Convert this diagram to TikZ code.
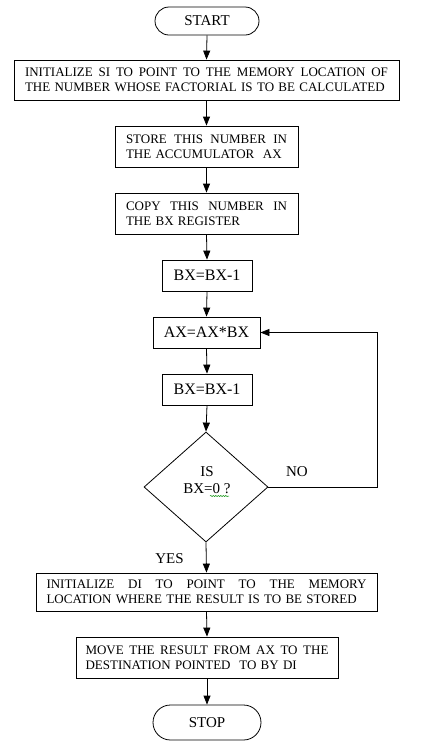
\documentclass[tikz,border=0pt]{standalone}
\usepackage{fontspec}
\setmainfont{Liberation Serif}
\usetikzlibrary{arrows.meta,shapes.geometric,decorations.pathmorphing}
\newcommand\jline[2]{\hbox to #1{\spaceskip=0.25em plus 1fil\relax #2}}
\begin{document}
\begin{tikzpicture}[x=1pt,y=-1pt,
  line width=0.8pt,
  arr/.style={-{Triangle[length=9pt,width=7pt]}},
  txtbox/.style={draw,rectangle,inner sep=0pt,align=left,font=\fontsize{13}{15}\selectfont},
  eqbox/.style={draw,rectangle,inner sep=0pt,minimum height=31pt,font=\fontsize{16}{18}\selectfont},
  term/.style={draw,rectangle,inner sep=0pt,font=\fontsize{15}{17}\selectfont},
  lbl/.style={font=\fontsize{15}{17}\selectfont,inner sep=0pt}]
\useasboundingbox (0,0) rectangle (425,745);
\fill[white] (0,0) rectangle (425,745);

\node[term,minimum width=104pt,minimum height=28pt,rounded corners=14pt] (start) at (207,21) {START};

\node[txtbox,minimum width=385pt,minimum height=40pt,text width=363pt] (b1) at (206.5,80)
  {\jline{363pt}{INITIALIZE SI TO POINT TO THE MEMORY LOCATION OF}\\\mbox{THE NUMBER WHOSE FACTORIAL IS TO BE CALCULATED}};

\node[txtbox,minimum width=183pt,minimum height=41pt,text width=161pt] (b2) at (206.5,146.5)
  {\jline{161pt}{STORE THIS NUMBER IN}\\\mbox{THE ACCUMULATOR\ \ AX}};

\node[txtbox,minimum width=183pt,minimum height=41pt,text width=161pt] (b3) at (206.5,213.5)
  {\jline{161pt}{COPY THIS NUMBER IN}\\\mbox{THE BX REGISTER}};

\node[eqbox,minimum width=90pt] (bx1) at (207,275.5) {BX=BX-1};
\node[eqbox,minimum width=107pt] (ax) at (206.5,332.5) {AX=AX*BX};
\node[eqbox,minimum width=90pt] (bx2) at (207,389.5) {BX=BX-1};

\node[draw,diamond,inner sep=0pt,minimum width=124pt,minimum height=110pt] (dec) at (206,487) {};
\node[lbl,anchor=base] (is) at (207,476) {IS};
\node[lbl,anchor=base] (bx0) at (207,493) {BX=0 ?};
\draw[green!55!black,line width=0.5pt,decorate,decoration={snake,amplitude=0.6pt,segment length=2.5pt}]
  (210,496) -- (229,496);

\node[lbl,anchor=base] (no) at (297,476) {NO};
\node[lbl,anchor=base] (yes) at (169.5,563) {YES};

\node[txtbox,minimum width=341pt,minimum height=38pt,text width=320pt] (b4) at (206.5,592)
  {\jline{320pt}{INITIALIZE DI TO POINT TO THE MEMORY}\\\mbox{LOCATION WHERE THE RESULT IS TO BE STORED}};

\node[txtbox,minimum width=262pt,minimum height=41pt,text width=243pt] (b5) at (207,657.5)
  {\jline{243pt}{MOVE THE RESULT FROM AX TO THE}\\\mbox{DESTINATION POINTED\ \ TO BY DI}};

\node[term,minimum width=108pt,minimum height=35pt,rounded corners=17.5pt] (stop) at (207,722.5) {STOP};

\coordinate (c1) at (377,487);
\coordinate (c2) at (377,332.5);

\draw[arr] (start.south) -- (b1.north);
\draw[arr] (b1.south) -- (b2.north);
\draw[arr] (b2.south) -- (b3.north);
\draw[arr] (b3.south) -- (bx1.north);
\draw[arr] (bx1.south) -- (ax.north);
\draw[arr] (ax.south) -- (bx2.north);
\draw[arr] (bx2.south) -- (dec.north);
\draw[arr] (dec.east) -- (c1) -- (c2) -- (ax.east);
\draw[arr] (dec.south) -- (b4.north);
\draw[arr] (b4.south) -- (b5.north);
\draw[arr] (b5.south) -- (stop.north);
\end{tikzpicture}
\end{document}
